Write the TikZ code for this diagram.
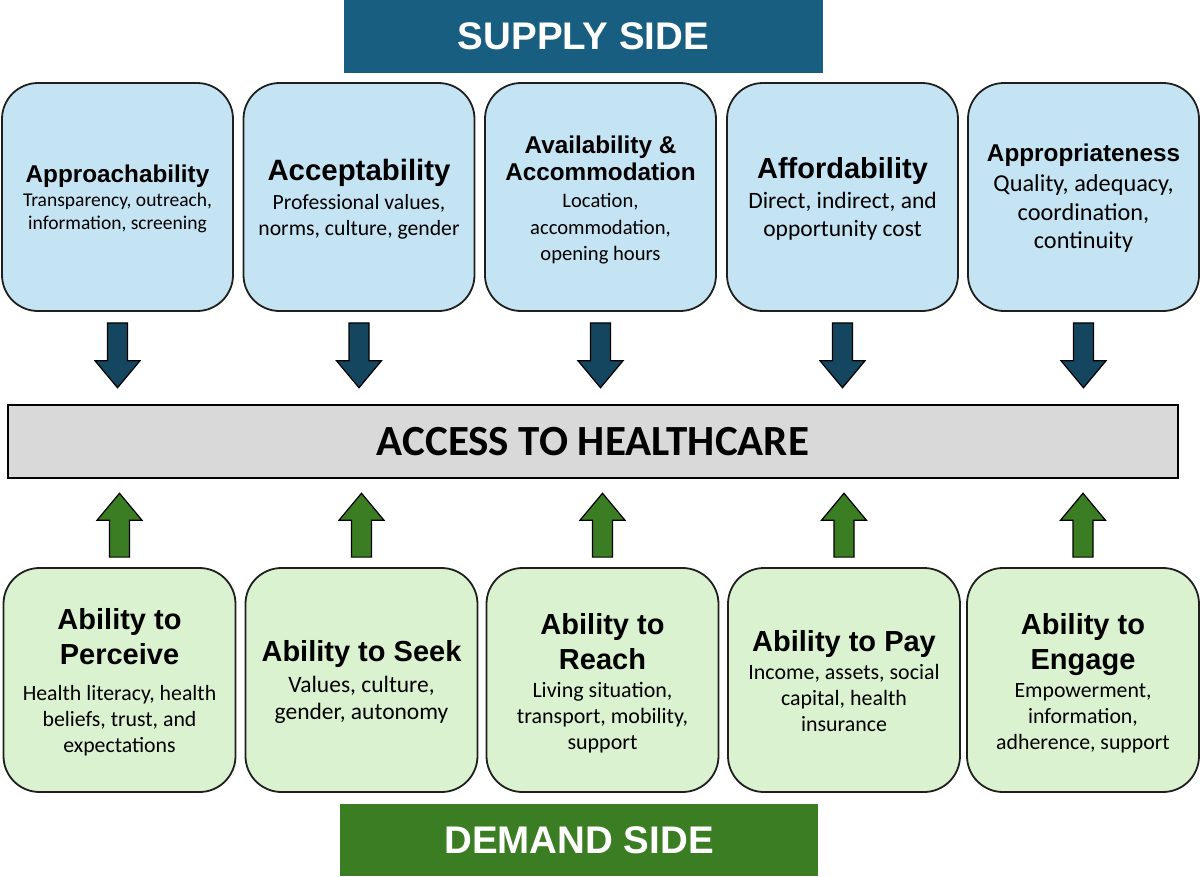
\documentclass[tikz,border=0pt]{standalone}
\usepackage{fontspec}
\setmainfont{Carlito}
\newfontfamily\arialfont{Liberation Sans}
\usetikzlibrary{calc}
\definecolor{supplyblue}{RGB}{24,94,128}
\definecolor{topfill}{RGB}{197,228,243}
\definecolor{downcol}{RGB}{20,71,95}
\definecolor{barfill}{RGB}{217,217,217}
\definecolor{demandgreen}{RGB}{59,125,35}
\definecolor{botfill}{RGB}{218,242,208}
\newcommand\hdf[1]{\arialfont\bfseries\fontsize{#1}{#1}\selectfont}
\newcommand\bdf[1]{\fontsize{#1}{#1}\selectfont}
% text line: name, x, baseline y, font, text
\newcommand\tline[5]{\node[txt, font=#4] (#1) at (#2,#3) {#5};}
\newcommand\downarr[2]{%
  \path[darr] let \p1=(#1.south), \p2=(#2.north) in
    (\x1-10pt,\y1-11pt) -- (\x1+10pt,\y1-11pt) -- (\x1+10pt,\y2+43pt) --
    (\x1+22.5pt,\y2+43pt) -- (\x1,\y2+16pt) -- (\x1-22.5pt,\y2+43pt) --
    (\x1-10pt,\y2+43pt) -- cycle;}
\newcommand\uparr[2]{%
  \path[uarr] let \p1=(#1.north), \p2=(#2.south) in
    (\x1-10pt,\y1+10pt) -- (\x1+10pt,\y1+10pt) -- (\x1+10pt,\y2-41pt) --
    (\x1+22.5pt,\y2-41pt) -- (\x1,\y2-14pt) -- (\x1-22.5pt,\y2-41pt) --
    (\x1-10pt,\y2-41pt) -- cycle;}
\begin{document}
\begin{tikzpicture}[x=1pt,y=-1pt,
  banner/.style={rectangle, inner sep=0pt, text=white,
    font=\arialfont\bfseries\fontsize{38.5}{38.5}\selectfont},
  topbox/.style={draw=black!88, line width=1.8pt, rounded corners=36pt,
    fill=topfill, minimum width=231pt, minimum height=228pt, inner sep=0pt},
  botbox/.style={draw=black!88, line width=1.8pt, rounded corners=36pt,
    fill=botfill, minimum width=232pt, minimum height=224pt, inner sep=0pt},
  txt/.style={anchor=base, inner sep=0pt, text=black},
  darr/.style={fill=downcol, draw=black, line width=1.2pt, line join=miter},
  uarr/.style={fill=demandgreen, draw=black, line width=1.2pt, line join=miter}]
\useasboundingbox (0,0) rectangle (1200,876);

\node[banner, fill=supplyblue, minimum width=479pt, minimum height=73pt]
  (supply) at (583.5,36.5) {SUPPLY SIDE};

% supply-side boxes
\node[topbox] (t1) at (117.5,197) {};
\node[topbox] (t2) at (359,197) {};
\node[topbox] (t3) at (600.5,197) {};
\node[topbox] (t4) at (842.5,197) {};
\node[topbox] (t5) at (1083.5,197) {};

\tline{t1h}{117.5}{182}{\hdf{24.3}}{Approachability}
\tline{t1a}{117.5}{206.5}{\bdf{19.5}}{Transparency, outreach,}
\tline{t1b}{117.5}{229}{\bdf{19.5}}{information, screening}

\tline{t2h}{359}{180}{\hdf{29.4}}{Acceptability}
\tline{t2a}{359}{209}{\bdf{21.7}}{Professional values,}
\tline{t2b}{359}{235}{\bdf{21.7}}{norms, culture, gender}

\tline{t3h}{600.5}{153}{\hdf{24.3}}{Availability \&}
\tline{t3i}{600.5}{180.5}{\hdf{24.3}}{Accommodation}
\tline{t3a}{600.5}{207.5}{\bdf{20.6}}{Location,}
\tline{t3b}{600.5}{234.5}{\bdf{20.6}}{accommodation,}
\tline{t3c}{600.5}{260.5}{\bdf{20.6}}{opening hours}

\tline{t4h}{842.5}{178}{\hdf{29}}{Affordability}
\tline{t4a}{842.5}{208.5}{\bdf{23.5}}{Direct, indirect, and}
\tline{t4b}{842.5}{236.5}{\bdf{23.5}}{opportunity cost}

\tline{t5h}{1083.5}{161.5}{\hdf{24.3}}{Appropriateness}
\tline{t5a}{1083.5}{191}{\bdf{24.3}}{Quality, adequacy,}
\tline{t5b}{1083.5}{220}{\bdf{24.3}}{coordination,}
\tline{t5c}{1083.5}{248.5}{\bdf{24.3}}{continuity}

\node[rectangle, draw=black, line width=2.5pt, fill=barfill, inner sep=0pt,
  minimum width=1170pt, minimum height=73pt,
  font=\bfseries\fontsize{43}{43}\selectfont] (bar) at (593,441.5) {ACCESS TO HEALTHCARE};

% demand-side boxes
\node[botbox] (b1) at (119.5,680) {};
\node[botbox] (b2) at (361.5,680) {};
\node[botbox] (b3) at (602.5,680) {};
\node[botbox] (b4) at (844,680) {};
\node[botbox] (b5) at (1083,680) {};

\tline{b1h}{119.5}{629.5}{\hdf{29}}{Ability to}
\tline{b1i}{119.5}{664}{\hdf{29}}{Perceive}
\tline{b1a}{119.5}{700}{\bdf{21.8}}{Health literacy, health}
\tline{b1b}{119.5}{726.5}{\bdf{21.8}}{beliefs, trust, and}
\tline{b1c}{119.5}{752.5}{\bdf{21.8}}{expectations}

\tline{b2h}{361.5}{661.5}{\hdf{29}}{Ability to Seek}
\tline{b2a}{361.5}{692}{\bdf{23.5}}{Values, culture,}
\tline{b2b}{361.5}{719}{\bdf{23.5}}{gender, autonomy}

\tline{b3h}{602.5}{634.5}{\hdf{29}}{Ability to}
\tline{b3i}{602.5}{669}{\hdf{29}}{Reach}
\tline{b3a}{602.5}{697}{\bdf{22}}{Living situation,}
\tline{b3b}{602.5}{723}{\bdf{22}}{transport, mobility,}
\tline{b3c}{602.5}{749}{\bdf{22}}{support}

\tline{b4h}{844}{651}{\hdf{29}}{Ability to Pay}
\tline{b4a}{844}{679}{\bdf{21.9}}{Income, assets, social}
\tline{b4b}{844}{705.5}{\bdf{21.9}}{capital, health}
\tline{b4c}{844}{731.5}{\bdf{21.9}}{insurance}

\tline{b5h}{1083}{634.5}{\hdf{29}}{Ability to}
\tline{b5i}{1083}{669}{\hdf{29}}{Engage}
\tline{b5a}{1083}{697}{\bdf{21.8}}{Empowerment,}
\tline{b5b}{1083}{723}{\bdf{21.8}}{information,}
\tline{b5c}{1083}{749}{\bdf{21.8}}{adherence, support}

\node[banner, fill=demandgreen, minimum width=478pt, minimum height=72pt]
  (demand) at (579,840) {DEMAND SIDE};

\foreach \bx in {t1,t2,t3,t4,t5}{\downarr{\bx}{bar}}
\foreach \bx in {b1,b2,b3,b4,b5}{\uparr{\bx}{bar}}
\end{tikzpicture}
\end{document}
